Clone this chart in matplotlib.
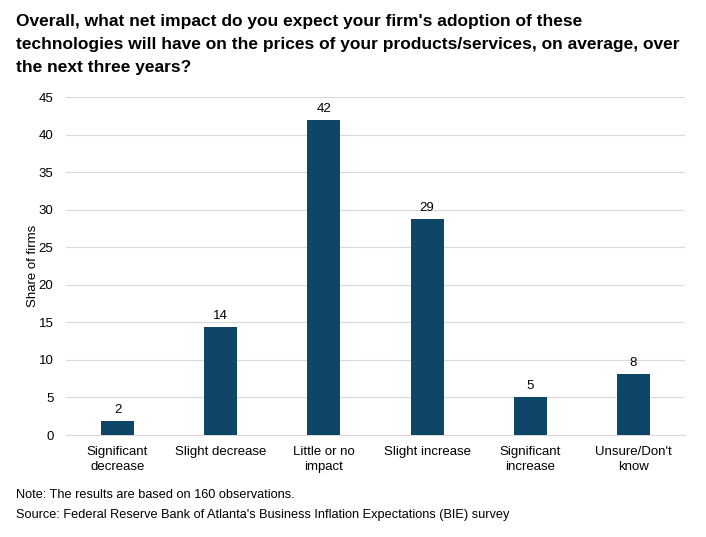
import matplotlib
matplotlib.use('Agg')
import matplotlib.pyplot as plt
import numpy as np

plt.rcParams['font.family'] = ['Liberation Sans', 'DejaVu Sans']

categories = ['Significant\ndecrease', 'Slight decrease', 'Little or no\nimpact',
              'Slight increase', 'Significant\nincrease', 'Unsure/Don\'t\nknow']
shares = [1.875, 14.375, 41.875, 28.75, 5.0, 8.125]
labels = ['2', '14', '42', '29', '5', '8']

title = ("Overall, what net impact do you expect your firm's adoption of these\n"
         "technologies will have on the prices of your products/services, on average, over\n"
         "the next three years?")
note = ("Note: The results are based on 160 observations.\n"
        "Source: Federal Reserve Bank of Atlanta's Business Inflation Expectations (BIE) survey")

bar_color = '#0f4567'
grid_color = '#d9d9d9'

fig = plt.figure(figsize=(7.06, 5.37), dpi=100)
ax = fig.add_axes([66 / 706, 1 - 435 / 537, (685 - 66) / 706, (435 - 97) / 537])

x = np.arange(len(categories))
ax.bar(x, shares, width=0.32, color=bar_color, zorder=3)
for xi, v, lab in zip(x, shares, labels):
    ax.text(xi, v + 0.7, lab, ha='center', va='bottom', fontsize=9.5, color='black')

ax.set_xlim(-0.5, len(categories) - 0.5)
ax.set_ylim(0, 45)
ax.set_yticks(np.arange(0, 46, 5))
ax.set_xticks(x)
ax.set_xticklabels(categories, fontsize=9.5, linespacing=1.35)
ax.tick_params(axis='y', labelsize=9.5, length=0, pad=9)
ax.tick_params(axis='x', length=0, pad=8)
ax.yaxis.grid(True, color=grid_color, linewidth=0.8, zorder=0)
for side in ['top', 'right', 'left']:
    ax.spines[side].set_visible(False)
ax.spines['bottom'].set_color(grid_color)
ax.spines['bottom'].set_linewidth(0.8)
ax.set_ylabel('Share of firms', fontsize=9.5, labelpad=0)

fig.text(16 / 706, 1 - 14 / 537, title, ha='left', va='top', fontsize=12.5,
         fontweight='bold', linespacing=1.65)
fig.text(16 / 706, 1 - 489 / 537, note, ha='left', va='top', fontsize=9.2,
         linespacing=1.85)

fig.savefig('out.png', dpi=100)
